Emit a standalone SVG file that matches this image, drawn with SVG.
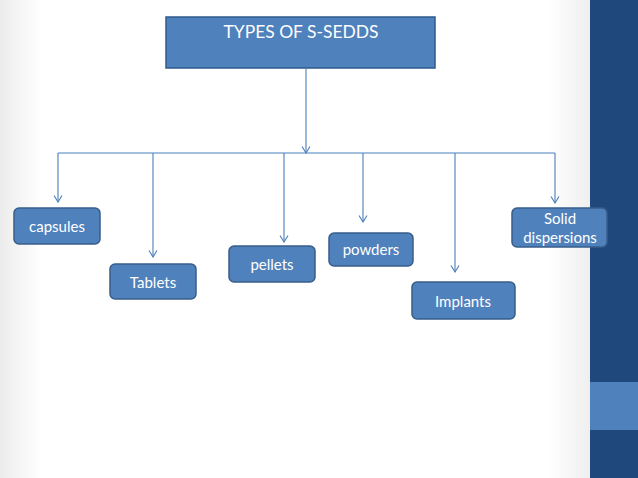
<svg xmlns="http://www.w3.org/2000/svg" width="638" height="478" viewBox="0 0 638 478">
<defs>
<linearGradient id="bg" x1="0" y1="0" x2="1" y2="0">
<stop offset="0" stop-color="#ececec"/>
<stop offset="0.07" stop-color="#ffffff"/>
<stop offset="0.93" stop-color="#ffffff"/>
<stop offset="1" stop-color="#efefef"/>
</linearGradient>
<marker id="arr" viewBox="0 0 8 10" refX="7.5" refY="5" markerWidth="8" markerHeight="10" markerUnits="userSpaceOnUse" orient="auto">
<path d="M1,1 L7.5,5 L1,9" fill="none" stroke="#4A7EBB" stroke-width="1.1"/>
</marker>
<style>
.node rect{fill:#4F81BD;stroke:#385D8A;stroke-width:1.5}
.node text{fill:#ffffff;font-family:Lato,"Noto Sans",sans-serif;font-size:15px;text-anchor:middle}
.conn line,.conn path{stroke:#4A7EBB;stroke-width:1.1;fill:none}
</style>
</defs>
<rect x="0" y="0" width="590" height="478" fill="url(#bg)"/>
<rect x="590" y="0" width="48" height="478" fill="#1F497D"/>
<rect x="590" y="382" width="48" height="48" fill="#4F81BD"/>
<g id="title" class="node">
<rect x="166" y="17" width="269" height="51" style="stroke:#2E5A8E"/>
<text x="301" y="38" style="font-size:17px" textLength="155" lengthAdjust="spacingAndGlyphs">TYPES OF S-SEDDS</text>
</g>
<g class="conn">
<line x1="306" y1="69" x2="306" y2="153" marker-end="url(#arr)"/>
<path d="M58,153 H555"/>
<line x1="58" y1="153" x2="58" y2="202" marker-end="url(#arr)"/>
<line x1="153" y1="153" x2="153" y2="257" marker-end="url(#arr)"/>
<line x1="284" y1="153" x2="284" y2="242" marker-end="url(#arr)"/>
<line x1="363" y1="153" x2="363" y2="222" marker-end="url(#arr)"/>
<line x1="455" y1="153" x2="455" y2="272" marker-end="url(#arr)"/>
<line x1="555" y1="153" x2="555" y2="203" marker-end="url(#arr)"/>
</g>
<g id="capsules" class="node">
<rect x="14" y="208" width="86" height="36" rx="5"/>
<text x="57" y="232">capsules</text>
</g>
<g id="tablets" class="node">
<rect x="110" y="264" width="86" height="35" rx="5"/>
<text x="153" y="288">Tablets</text>
</g>
<g id="pellets" class="node">
<rect x="229" y="246" width="86" height="36" rx="5"/>
<text x="272" y="270">pellets</text>
</g>
<g id="powders" class="node">
<rect x="329" y="233" width="84" height="33" rx="5"/>
<text x="371" y="255">powders</text>
</g>
<g id="implants" class="node">
<rect x="412" y="282" width="103" height="37" rx="5"/>
<text x="463" y="307">Implants</text>
</g>
<g id="solid" class="node">
<rect x="512" y="208" width="95" height="39" rx="5"/>
<text x="560" y="224">Solid</text>
<text x="560" y="243">dispersions</text>
</g>
</svg>
